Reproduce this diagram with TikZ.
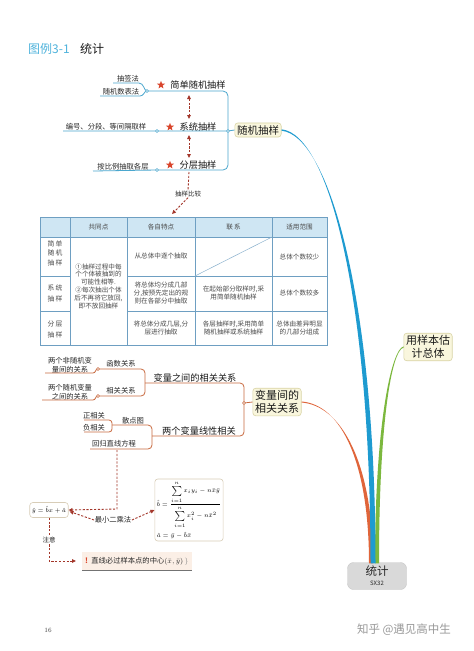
\documentclass[tikz,border=0pt]{standalone}
\usepackage{fontspec}
\newfontfamily\cjk{Noto Sans CJK SC}
\usetikzlibrary{shapes.geometric,calc,arrows.meta}
\definecolor{tblue}{HTML}{4FB3DC}
\definecolor{lblue}{HTML}{4BA7CE}
\definecolor{cblue}{HTML}{1E9BD0}
\definecolor{cgreen}{HTML}{7CB83E}
\definecolor{corange}{HTML}{E0653A}
\definecolor{brn}{HTML}{C8693F}
\definecolor{dred}{HTML}{A3362A}
\definecolor{sred}{HTML}{D9452C}
\definecolor{cream}{HTML}{F9F6DD}
\definecolor{creamb}{HTML}{D9D4A5}
\definecolor{tbord}{HTML}{6E9FC2}
\definecolor{thead}{HTML}{CFE6F3}
\definecolor{ttext}{HTML}{4A4A4A}
\definecolor{fboxb}{HTML}{D8CDB8}
\definecolor{notef}{HTML}{FBEFE6}
\begin{document}
\begin{tikzpicture}[x=1pt,y=-1pt,
  lf/.style={font=\cjk\fontsize{7.3}{8.8}\selectfont, inner sep=0.5pt, align=center, text=black!85},
  sm/.style={font=\cjk\fontsize{6.5}{7.5}\selectfont, inner sep=0.5pt, text=black!85},
  br/.style={font=\cjk\fontsize{9.2}{11}\selectfont, inner sep=0.5pt, text=black!90},
  mbox/.style={draw=creamb, fill=cream, rounded corners=3pt, font=\cjk\fontsize{11}{13}\selectfont, align=center, inner sep=2.2pt, line width=0.6pt, text=black!90},
  tline/.style={draw=lblue, line width=0.8pt},
  bline/.style={draw=brn, line width=0.8pt},
  darr/.style={draw=dred, line width=0.9pt, dash pattern=on 2.2pt off 1.6pt},
  tip/.style={-{Triangle[length=4pt,width=3.6pt]}},
  tips/.style={{Triangle[length=4pt,width=3.6pt]}-{Triangle[length=4pt,width=3.6pt]}},
  jdot/.style={circle, draw=#1, fill=white, inner sep=0pt, minimum size=3pt, line width=0.5pt},
  sstar/.style={star, star points=5, star point ratio=2.4, fill=sred, inner sep=0pt, minimum size=8.5pt},
  tcell/.style={font=\cjk\fontsize{6.6}{7.8}\selectfont, align=center, text=ttext, inner sep=0pt},
  fbox/.style={draw=fboxb, fill=white, rounded corners=3pt, line width=0.6pt, font=\fontsize{6.5}{7.5}\selectfont, inner sep=2pt}
]
\useasboundingbox (0,0) rectangle (474,651);
\fill[white] (0,0) rectangle (474,651);

% title
\node[anchor=west, font=\cjk\fontsize{12}{12}\selectfont, text=tblue, inner sep=0pt] (title) at (28,49) {图例3-1};
\node[anchor=west, font=\cjk\fontsize{12}{12}\selectfont, text=black!90, inner sep=0pt] (title2) at (80,49) {统计};

% ---------- top section ----------
\node[lf] (cqf) at (128,79) {抽签法};
\node[lf] (sjs) at (121,92) {随机数表法};
\node[br] (jd) at (198,85) {简单随机抽样};
\node[sstar] (s1) at (161,85) {};
\node[br] (xt) at (198,127) {系统抽样};
\node[sstar] (s2) at (170,127) {};
\node[br] (fc) at (198,165) {分层抽样};
\node[sstar] (s3) at (170,165) {};
\node[lf] (bh) at (106,127) {编号、分段、等间隔取样};
\node[lf] (abl) at (123,167) {按比例抽取各层};
\node[mbox, font=\cjk\fontsize{10.5}{12}\selectfont] (rand) at (258,130) {随机抽样};

\coordinate (j1) at (147,91);
\coordinate (j2) at (157,131);
\coordinate (j3) at (157,170);
\coordinate (j4) at (228,131);
\draw[tline] (113,83) -- (139,83) .. controls (144,83) and (144,91) .. (j1);
\draw[tline] (100,96) -- (140,96) .. controls (144,96) and (144,91) .. (j1);
\draw[tline, rounded corners=5pt] (j1) -- (228,91) -- (228,170) -- (j3);
\draw[tline] (63,131) -- (j2) -- (j4) -- (rand.west);
\draw[tline] (93,171) -- (j3);
\foreach \p in {j1,j2,j3,j4} \node[jdot=lblue] at (\p) {};

\coordinate (d1a) at (189,95);
\coordinate (d1b) at (189,119);
\coordinate (d2a) at (189,135);
\coordinate (d2b) at (189,158);
\draw[darr, tips] (d1a) -- (d1b);
\draw[darr, tips] (d2a) -- (d2b);
\node[sm] (cmp) at (188,194) {抽样比较};
\coordinate (fcb) at (189,172);
\coordinate (ttop) at (172,214);
\draw[darr] (fcb) -- (cmp.north);
\draw[darr, tip] (cmp.south) -- (ttop);

% ---------- table ----------
\fill[thead] (40,217) rectangle (327,237);
\draw[tbord, line width=0.6pt] (40,217) rectangle (327,345);
\draw[tbord, line width=0.5pt] (40,237) -- (327,237);
\draw[tbord, line width=0.5pt] (40,276) -- (70,276) (127,276) -- (327,276);
\draw[tbord, line width=0.5pt] (40,311) -- (70,311) (127,311) -- (327,311);
\foreach \x in {70,127,195,272} \draw[tbord, line width=0.5pt] (\x,217) -- (\x,345);
\draw[tbord!80, line width=0.5pt] (195,276) -- (272,237);

\node[tcell] (h2) at (98.5,227) {共同点};
\node[tcell] (h3) at (161,227) {各自特点};
\node[tcell] (h4) at (233.5,227) {联\,系};
\node[tcell] (h5) at (299.5,227) {适用范围};

\node[tcell, font=\cjk\fontsize{6.8}{9.5}\selectfont] (r1c1) at (55,253) {简\,单\\随\,机\\抽\,样};
\node[tcell, font=\cjk\fontsize{6.8}{11}\selectfont] (r2c1) at (55,293) {系\,统\\抽\,样};
\node[tcell, font=\cjk\fontsize{6.8}{11}\selectfont] (r3c1) at (55,329) {分\,层\\抽\,样};

\node[tcell] (c2) at (98.5,286) {①抽样过程中每\\个个体被抽到的\\可能性相等.\\②每次抽出个体\\后不再将它放回,\\即不放回抽样};

\node[tcell] (r1c3) at (161,256) {从总体中逐个抽取};
\node[tcell] (r1c5) at (299.5,257) {总体个数较少};
\node[tcell] (r2c3) at (161,293) {将总体均分成几部\\分,按预先定出的规\\则在各部分中抽取};
\node[tcell] (r2c4) at (233.5,293) {在起始部分取样时,采\\用简单随机抽样};
\node[tcell] (r2c5) at (299.5,293) {总体个数较多};
\node[tcell] (r3c3) at (161,328) {将总体分成几层,分\\层进行抽取};
\node[tcell] (r3c4) at (233.5,328) {各层抽样时,采用简单\\随机抽样或系统抽样};
\node[tcell] (r3c5) at (299.5,328) {总体由差异明显\\的几部分组成};

% ---------- middle section ----------
\node[lf] (fsj) at (70,365.5) {两个非随机变\\量间的关系};
\node[lf] (sjl) at (70,392.5) {两个随机变量\\之间的关系};
\node[lf] (hs) at (121,364) {函数关系};
\node[lf] (xg) at (121,391) {相关关系};
\node[br] (blzj) at (195,378) {变量之间的相关关系};
\node[br] (lgbl) at (199,431) {两个变量线性相关};
\node[lf] (sdt) at (133,421) {散点图};
\node[lf] (zxg) at (94,416) {正相关};
\node[lf] (fxg) at (94,428) {负相关};
\node[lf] (hg) at (114,444) {回归直线方程};
\node[mbox] (bx) at (277,402) {变量间的\\相关关系};

\coordinate (k1) at (98,369);
\coordinate (k2) at (98,396);
\coordinate (k3) at (145,383);
\coordinate (k4) at (244,403);
\coordinate (k5) at (112,425);
\draw[bline] (45,373) -- (93,373) .. controls (96,373) and (95,369) .. (k1);
\draw[bline] (42,400) -- (93,400) .. controls (96,400) and (95,396) .. (k2);
\draw[bline, rounded corners=4pt] (k1) -- (145,369) -- (145,396) -- (k2);
\draw[bline, rounded corners=4pt] (k3) -- (244,383) -- (244,436) -- (152,436);
\draw[bline] (k4) -- (bx.west);
\draw[bline, rounded corners=4pt] (k5) -- (152,425) -- (152,449) -- (90,449);
\draw[bline, rounded corners=3pt] (84,420) -- (112,420) -- (112,432) -- (84,432);
\foreach \p in {k1,k2,k4} \node[jdot=brn] at (\p) {};

% ---------- formulas ----------
\node[fbox, minimum width=35pt, minimum height=15pt] (f1) at (49,510) {$\hat y=\hat bx+\hat a$};
\node[fbox, align=left, minimum width=66pt, minimum height=60pt, font=\fontsize{6}{7}\selectfont] (f2) at (189,510)
  {$\displaystyle\hat b=\frac{\sum\limits_{i=1}^{n}x_iy_i-n\bar x\bar y}{\sum\limits_{i=1}^{n}x_i^2-n\bar x^2}$\\[3pt]$\hat a=\bar y-\hat b\bar x$};
\node[lf] (lsq) at (113,520) {最小二乘法};
\coordinate (hgb) at (117,450);
\coordinate (hgc) at (117,509);
\draw[darr, tip] (hgb) -- (hgc) -- (f1.east);
\draw[darr, tip] (lsq.west) -- ($(f1.east)+(1,1.5)$);
\draw[darr, tip] (lsq.east) -- (f2.west);

\node[anchor=west, fill=notef, inner sep=3pt, minimum height=18pt, font=\cjk\fontsize{7.3}{8}\selectfont, text=black!85] (note) at (82,561)
  {{\color{sred}\bfseries !}\ \ 直线必过样本点的中心$(\bar x,\bar y)$\,{\color{black!45}$\}$}};
\draw[black!55, line width=0.5pt] (note.south west) -- (note.south east);
\draw[darr, tip, shorten >=6pt] (f1.south) |- (note.west);
\node[sm, fill=white, inner sep=1pt] (zy) at (49,540) {注意};

% ---------- main curves ----------
\node[mbox, font=\cjk\fontsize{11}{13}\selectfont] (gbox) at (428,347) {用样本估\\计总体};
\node[draw=black!22, fill=black!15, rounded corners=6pt, minimum width=59pt, minimum height=27pt, align=center, inner sep=1pt, font=\cjk\fontsize{11.5}{12}\selectfont, text=black!85] (stat) at (377,576) {统计\\[-2pt]{\fontsize{6}{7}\selectfont SX32}};

\fill[cgreen] ($(stat.north)+(-2,1)$) .. controls +(0,-140) and +(-12,3) .. ($(gbox.west)+(0,-0.6)$) -- ($(gbox.west)+(0,0.6)$) .. controls +(-12,3) and +(0,-140) .. ($(stat.north)+(2,1)$) -- cycle;
\fill[corange] ($(stat.north)+(-8,1)$) .. controls +(0,-100) and +(40,3) .. ($(bx.east)+(0,-0.5)$) -- ($(bx.east)+(0,0.5)$) .. controls +(40,3) and +(0,-100) .. ($(stat.north)+(-4,1)$) -- cycle;
\fill[cblue] ($(stat.north)+(-6.5,1)$) .. controls +(0,-262) and +(48,5) .. ($(rand.east)+(0,-0.7)$) -- ($(rand.east)+(0,0.7)$) .. controls +(48,5) and +(0,-262) .. ($(stat.north)+(-1.5,1)$) -- cycle;

% page number and watermark
\node[font=\fontsize{6.5}{7}\selectfont, text=black!75] (pg) at (48,630) {16};
\node[font=\cjk\fontsize{11.5}{12}\selectfont, text=black!40] (wm) at (404,630) {知乎 @遇见高中生};
\end{tikzpicture}
\end{document}
